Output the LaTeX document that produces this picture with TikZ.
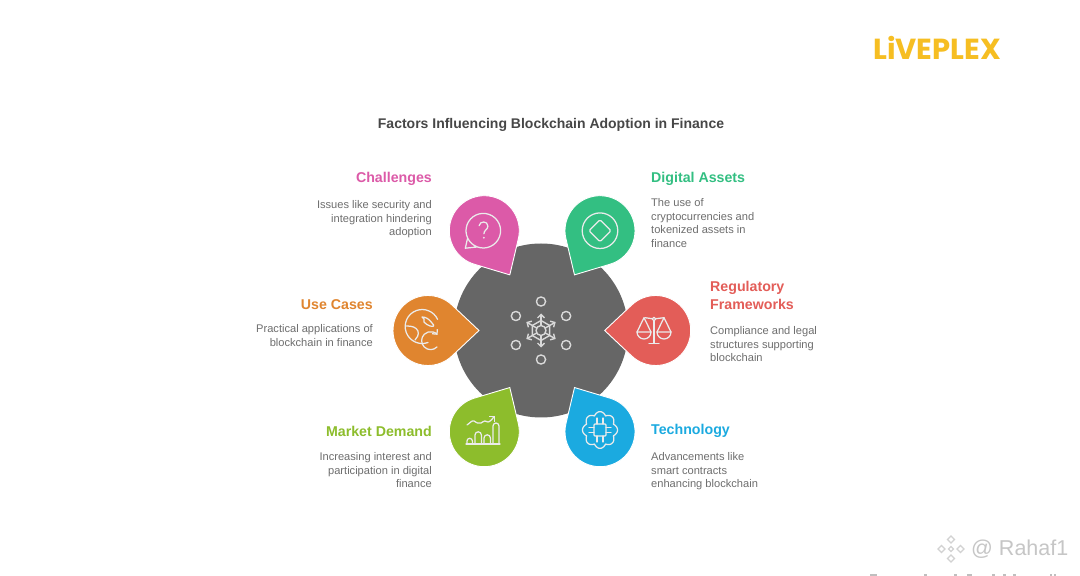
\documentclass[tikz,border=0pt]{standalone}
\usepackage{fontspec}
\setmainfont{Liberation Sans}
\newfontfamily\logofont{Poppins}
\usetikzlibrary{arrows.meta}
\definecolor{hubgray}{HTML}{666666}
\definecolor{bodygray}{HTML}{6E6E6E}
\definecolor{titlegray}{HTML}{474747}
\definecolor{cpink}{HTML}{DC5AA8}
\definecolor{cgreen}{HTML}{33BF82}
\definecolor{cred}{HTML}{E35D58}
\definecolor{cblue}{HTML}{1BAAE0}
\definecolor{clime}{HTML}{8DBD2C}
\definecolor{corange}{HTML}{E0852F}
\definecolor{logoyellow}{HTML}{F6BE22}
\newcommand{\petal}[4]{% cx, cy, tip direction, colour
  \begin{scope}[shift={(#1,#2)},rotate=#3]
    \draw[fill=#4,draw=white,line width=0.9pt,line join=miter]
      (51,0) -- (46.7:35) arc[start angle=46.7,end angle=313.3,radius=35] -- cycle;
  \end{scope}}
\tikzset{
  x=1pt,y=1pt,
  headtxt/.style={inner sep=0pt,font=\fontsize{14.2}{18}\selectfont\bfseries},
  bodyL/.style={inner sep=0pt,align=left,anchor=north west,text=bodygray,font=\fontsize{11.1}{13.8}\selectfont},
  bodyR/.style={inner sep=0pt,align=right,anchor=north east,text=bodygray,font=\fontsize{11.1}{13.8}\selectfont},
  icon/.style={draw=white!92!black,line width=1.25pt,line cap=round,line join=round},
  hubicon/.style={draw=white!85!black,line width=1.4pt,line cap=round,line join=round},
}
\begin{document}
\begin{tikzpicture}
\useasboundingbox (0,0) rectangle (1080,576);
\fill[white] (0,0) rectangle (1080,576);
% hub
\fill[hubgray] (541,245.5) circle[radius=87];
\begin{scope}[shift={(541,245.5)}]
  \foreach \a in {30,90,150,210,270,330}{
    \draw[hubicon] (\a:29) circle[radius=4.6];
    \draw[hubicon,-{Straight Barb[length=3.5pt,width=7pt]}] (\a+0:5) -- (\a+0:17);
  }
  \draw[hubicon] (0,0) circle[radius=5];
  \draw[hubicon] (30:10) -- (90:10) -- (150:10) -- (210:10) -- (270:10) -- (330:10) -- cycle;
\end{scope}
% petals
\petal{484.3}{345.3}{-60}{cpink}
\petal{600}{345.3}{-120}{cgreen}
\petal{655.7}{245.5}{180}{cred}
\petal{600}{144.3}{120}{cblue}
\petal{484.3}{144.3}{60}{clime}
\petal{428}{245.5}{0}{corange}
% question icon
\begin{scope}[shift={(483.3,345.3)}]
  \draw[icon] (250:17.3) arc[start angle=250,end angle=-155,radius=17.3] -- (-18,-17.5) -- cycle;
  \draw[icon] (-4.2,5) .. controls (-3.6,10) and (4.6,10) .. (4.6,4.6) .. controls (4.6,1) and (0.6,0.6) .. (0.6,-3);
  \fill[white!92!black] (0.6,-7) circle[radius=1];
\end{scope}
% diamond icon
\begin{scope}[shift={(600,345.3)}]
  \draw[icon] (0,0) circle[radius=17.8];
  \draw[icon,rounded corners=1.5pt] (0,11) -- (11,0) -- (0,-11) -- (-11,0) -- cycle;
\end{scope}
% scales icon
\begin{scope}[shift={(654,245.5)}]
  \draw[icon] (0,11.5) circle[radius=1.8];
  \draw[icon] (-1.8,11.8) -- (-9,12.8) (1.8,11.8) -- (10,12.8);
  \draw[icon] (0,9.7) -- (0,-13) (-5,-13) -- (5,-13);
  \foreach \s in {-1,1}{
    \begin{scope}[shift={(\s*10,0)}]
      \draw[icon] (-7,-1.5) -- (7,-1.5) arc[start angle=0,end angle=-180,radius=7] ;
      \draw[icon] (-7,-1.5) -- (0,12.8) -- (7,-1.5);
    \end{scope}
  }
\end{scope}
% chip/brain icon
\begin{scope}[shift={(600,146)}]
  \draw[icon,yscale=1.05] plot[domain=0:360,samples=145,smooth] (\x:{14.5+3*abs(cos(4*\x))}) -- cycle;
  \draw[icon,rounded corners=1pt] (-6,-6) rectangle (6,6);
  \draw[icon] (-3,6) -- (-3,12) (3,6) -- (3,12) (-3,-6) -- (-3,-12) (3,-6) -- (3,-12)
              (-6,2.5) -- (-11,2.5) (6,2.5) -- (11,2.5) (-6,-2.5) -- (-11,-2.5) (6,-2.5) -- (11,-2.5);
\end{scope}
% chart icon
\draw[icon] (466,132) -- (500,132);
\draw[icon] (467,132) -- (467,135) arc[start angle=180,end angle=0,radius=2.7] -- (472.4,132);
\draw[icon] (475,132) -- (475,141) arc[start angle=180,end angle=0,radius=3.2] -- (481.4,132);
\draw[icon] (484,132) -- (484,138) arc[start angle=180,end angle=0,radius=3.2] -- (490.4,132);
\draw[icon] (493,132) -- (493,150) arc[start angle=180,end angle=0,radius=3] -- (499,132);
\draw[icon,-{Straight Barb[length=3.5pt,width=7pt]}] (467,151) .. controls (470,153) and (472,156) .. (474,155) .. controls (477,153) and (479,152) .. (481,153) .. controls (484,155) and (486,156) .. (488,154) .. controls (490,154) and (492,157) .. (495,160);
% globe icon
\begin{scope}[shift={(423,247)}]
  \draw[icon] (5,-13.5) arc[start angle=-70,end angle=-335,radius=17];
  \draw[icon] (-16.5,3) .. controls (-11,3) and (-7,2) .. (-5,-2) .. controls (-4,-6) and (-6,-9) .. (-8,-11);
  \draw[icon] (-1,12) .. controls (3,12) and (6,10) .. (9,6) .. controls (12,3) and (11,2) .. (7,3) .. controls (4,3) and (3,6) .. (1,7) .. controls (2,9) and (1,11) .. (-1,12);
\end{scope}
\draw[icon,-{Straight Barb[length=3.5pt,width=7pt]}] (437,229) arc[start angle=-45,end angle=-320,radius=9];
% texts
\node[inner sep=0pt,text=titlegray,font=\fontsize{14}{17}\selectfont\bfseries] (title) at (551,451) {Factors Influencing Blockchain Adoption in Finance};
\node[headtxt,anchor=east,text=cpink] (h1) at (432,397) {Challenges};
\node[bodyR] (b1) at (432,376) {Issues like security and\\integration hindering\\adoption};
\node[headtxt,anchor=west,text=cgreen] (h2) at (651,397) {Digital Assets};
\node[bodyL] (b2) at (651,378) {The use of\\cryptocurrencies and\\tokenized assets in\\finance};
\node[headtxt,anchor=north west,text=cred,align=left,font=\fontsize{14.2}{18}\selectfont\bfseries] (h3) at (710,295) {Regulatory\\Frameworks};
\node[bodyL] (b3) at (710,250) {Compliance and legal\\structures supporting\\blockchain};
\node[headtxt,anchor=west,text=cblue] (h4) at (651,145) {Technology};
\node[bodyL] (b4) at (651,124) {Advancements like\\smart contracts\\enhancing blockchain};
\node[headtxt,anchor=east,text=clime] (h5) at (432,145) {Market Demand};
\node[bodyR] (b5) at (432,124) {Increasing interest and\\participation in digital\\finance};
\node[headtxt,anchor=east,text=corange] (h6) at (373,271) {Use Cases};
\node[bodyR] (b6) at (373,252) {Practical applications of\\blockchain in finance};
% logo
\node[inner sep=0pt,anchor=west,text=logoyellow,font=\logofont\fontsize{29}{32}\selectfont\bfseries] (logo) at (873,528) {LiVEPLEX};
% watermark
\begin{scope}[shift={(951,27)}]
  \foreach \p in {(0,9.5),(0,-9.5),(-9.5,0),(9.5,0)}
    \draw[draw=gray!35,line width=1.4pt,shift={\p}] (0,3.5) -- (3.5,0) -- (0,-3.5) -- (-3.5,0) -- cycle;
  \draw[draw=gray!35,line width=1.4pt] (0,2.5) -- (2.5,0) -- (0,-2.5) -- (-2.5,0) -- cycle;
\end{scope}
\node[inner sep=0pt,anchor=west,text=gray!45,font=\fontsize{21.5}{24}\selectfont] (wm) at (971,27) {@ Rahaf1};
% clipped marks on the lower edge
\foreach \xa/\xb in {870/877,924/927,954/957,967/972,992/995,1003/1006,1013/1016,1050/1052,1054/1056}
  \fill[gray!50] (\xa,0) rectangle (\xb,1.5);
\end{tikzpicture}
\end{document}
